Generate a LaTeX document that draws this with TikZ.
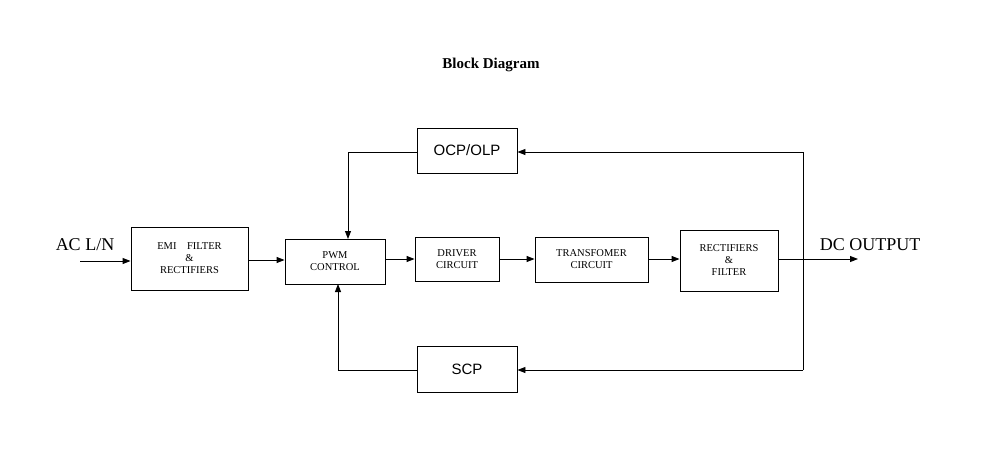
\documentclass[tikz,border=0pt]{standalone}
\usepackage{fontspec}
\setmainfont{Liberation Serif}
\newfontfamily\sansf{Liberation Sans}
\usetikzlibrary{arrows.meta}
\begin{document}
\begin{tikzpicture}[x=1pt,y=-1pt,
  box/.style={draw,line width=0.9pt,inner sep=0,align=center,font=\fontsize{10.5}{12}\selectfont},
  sbox/.style={draw,line width=0.9pt,inner sep=0,align=center,font=\sansf\fontsize{15}{17}\selectfont},
  ar/.style={line width=0.9pt,-{Triangle[length=8pt,width=6pt]}},
  ln/.style={line width=0.9pt}]
\useasboundingbox (0,0) rectangle (993,466);
\node[font=\bfseries\fontsize{15}{17}\selectfont] (title) at (491,65) {Block Diagram};
\node[box,minimum width=117pt,minimum height=63pt] (emi) at (189.5,258.5) {EMI\quad FILTER\\\&\\RECTIFIERS};
\node[box,minimum width=100pt,minimum height=45pt] (pwm) at (335,261.5) {PWM\\CONTROL};
\node[box,minimum width=84pt,minimum height=44pt] (drv) at (457,259) {DRIVER\\CIRCUIT};
\node[box,minimum width=113pt,minimum height=45pt] (tr) at (591.5,259.5) {TRANSFOMER\\CIRCUIT};
\node[box,minimum width=98pt,minimum height=61pt] (rf) at (729,260.5) {RECTIFIERS\\\&\\FILTER};
\node[sbox,minimum width=100pt,minimum height=45pt] (ocp) at (467,150.5) {OCP/OLP};
\node[sbox,minimum width=100pt,minimum height=46pt] (scp) at (467,369) {SCP};
\node[font=\fontsize{18}{20}\selectfont] (ac) at (85,245) {AC L/N};
\node[font=\fontsize{18}{20}\selectfont] (dc) at (870,245) {DC OUTPUT};
\coordinate (acin) at (80,261);
\coordinate (dcout) at (858,259);
\coordinate (rt) at (803,152);
\coordinate (rb) at (803,370);
\draw[ar] (acin) -- (emi.west|-acin);
\draw[ar] (emi.east|-0,260) -- (pwm.west|-0,260);
\draw[ar] (pwm.east|-0,259) -- (drv.west|-0,259);
\draw[ar] (drv.east|-0,259) -- (tr.west|-0,259);
\draw[ar] (tr.east|-0,259) -- (rf.west|-0,259);
\draw[ar] (rf.east|-0,259) -- (dcout);
\draw[ln] (rt) -- (rb);
\draw[ar] (rt) -- (ocp.east|-rt);
\draw[ar] (rb) -- (scp.east|-rb);
\draw[ar] (ocp.west|-0,152) -- (348,152) -- (348,239);
\draw[ar] (scp.west|-0,370) -- (338,370) -- (338,284);
\end{tikzpicture}
\end{document}
